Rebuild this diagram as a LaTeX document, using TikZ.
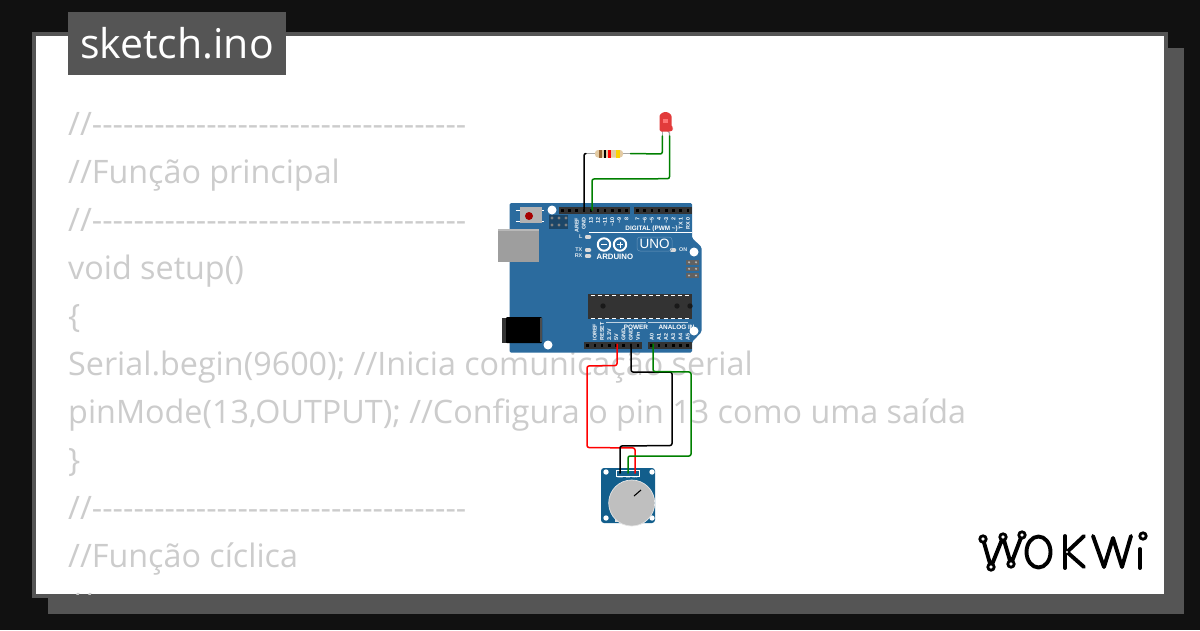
\documentclass[tikz,border=0pt]{standalone}
\usepackage{fontspec}
\setmainfont{Open Sans}
\newfontfamily\codefont{Open Sans}
\newfontfamily\boardfont{Liberation Sans}
\usetikzlibrary{calc}
\definecolor{pagedark}{HTML}{111111}
\definecolor{framegray}{HTML}{555555}
\definecolor{codegray}{HTML}{CCCCCC}
\definecolor{boardblue}{HTML}{2B6B9E}
\definecolor{potblue}{HTML}{125E8C}
\definecolor{headerdark}{HTML}{333333}
\definecolor{wiregreen}{HTML}{008000}
\definecolor{resistortan}{HTML}{E3CBA4}
\definecolor{ledred}{HTML}{E23B3B}
\tikzset{
  wire/.style={line width=1.5pt, rounded corners=2pt, line cap=round},
  lead/.style={line width=1.1pt, color=black!35},
  pinlabel/.style={text=white, font=\boardfont\bfseries\fontsize{5.4}{6}\selectfont, inner sep=0pt},
  boardtext/.style={text=white, font=\boardfont\bfseries\fontsize{6.4}{7}\selectfont, inner sep=0pt},
  hole/.style={fill=white, draw=none},
  header/.style={fill=headerdark, draw=none},
  logostroke/.style={line width=3.9pt, line cap=round, line join=round, color=black},
  logodot/.style={line width=2.8pt, color=black, fill=white},
}
\begin{document}
\begin{tikzpicture}[x=1pt,y=-1pt]
\useasboundingbox (0,0) rectangle (1200,630);
\fill[pagedark] (0,0) rectangle (1200,630);
\fill[framegray] (48,48) rectangle (1184,614);
\fill[framegray] (32,32) rectangle (1168,598);
\fill[white] (36,36) rectangle (1164,594);
% listing
\begin{scope}
\clip (36,36) rectangle (1164,594);
\foreach \codeline [count=\i from 0] in {
 {//------------------------------------},
 {//Função principal},
 {//------------------------------------},
 {void setup()},
 {\{},
 {Serial.begin(9600); //Inicia comunicação serial},
 {pinMode(13,OUTPUT); //Configura o pin 13 como uma saída},
 {\}},
 {//------------------------------------},
 {//Função cíclica},
 {//------------------------------------}} {
 \node[anchor=base west, inner sep=0pt, text=codegray, font=\codefont\fontsize{32.3}{36}\selectfont] (code\i) at (68,135+48.1*\i) {\codeline};
}
\end{scope}
% title
\node[fill=framegray, text=white, minimum width=218pt, minimum height=63pt, inner sep=0pt, font=\codefont\fontsize{41}{46}\selectfont] (title) at (177,43.5) {sketch.ino};
% board
\fill[boardblue, rounded corners=1.5pt] (509.5,203) -- (692,203) -- (692,238) -- (701.5,247) -- (701.5,332) -- (692,342) -- (692,352.5) -- (509.5,352.5) -- cycle;
\fill[hole] (552,210) circle (4.5);
\fill[hole] (694,252) circle (4.5);
\fill[hole] (694,331) circle (4.5);
\fill[hole] (548,345) circle (4.5);
% usb and jack
\fill[black!38] (498,229) rectangle (539,262);
\fill[black!28] (498,229) rectangle (539,231);
\fill[black!80] (502,318) rectangle (512,343);
\fill[black, rounded corners=1pt] (506,317) rectangle (542,343);
\fill[black!70] (540,318) rectangle (542,342);
% reset
\foreach \y in {210,221} {
 \draw[white, line width=1pt] (515.5,\y) --++(5,0);
 \draw[white, line width=1pt] (542,\y) --++(2,0);
}
\fill[black!30] (520,207) rectangle (542,223);
\fill[red!65!black] (529,216) circle (4);
% icsp
\fill[black!35!boardblue] (549,215) rectangle (568,229);
\foreach \x in {552,559,566} {
 \foreach \y in {218,225} {
  \fill[black!50] (\x,\y) circle (1.7);
 }
}
\fill[black!62] (686,260) rectangle (699,264.5);
\fill[black!62] (686,266.5) rectangle (699,271);
\fill[black!62] (686,273) rectangle (699,278);
\foreach \y in {262.3,268.8,275.5} {
 \foreach \x in {689,696} {
  \fill[black!30] (\x,\y) circle (1.2);
 }
}
% headers
\fill[header] (559,207) rectangle (630,214);
\fill[header] (634,207) rectangle (692,214);
\fill[header] (584,342) rectangle (642,348.5);
\fill[header] (648,342) rectangle (692,348.5);
\foreach \i in {0,...,9} {\fill[black] ($(562.5,209)+(7.1*\i,0)$) ++(-1.3,0) rectangle ++(2.6,2.6);}
\foreach \i in {0,...,7} {\fill[black] ($(637.5,209)+(7.2*\i,0)$) ++(-1.3,0) rectangle ++(2.6,2.6);}
\foreach \i in {0,...,7} {\fill[black] ($(587.6,344)+(7.2*\i,0)$) ++(-1.3,0) rectangle ++(2.6,2.6);}
\foreach \i in {0,...,5} {\fill[black] ($(651.7,344)+(7.2*\i,0)$) ++(-1.3,0) rectangle ++(2.6,2.6);}
% pin labels
\foreach \pinname [count=\i from 2] in {AREF,GND,13,12,\textasciitilde 11,\textasciitilde 10,\textasciitilde 9,8} {
 \node[pinlabel, rotate=90, anchor=east] (topa\i) at (562.5+7.1*\i,217.5) {\pinname};
}
\foreach \pinname [count=\i from 0] in {7,\textasciitilde 6,\textasciitilde 5,4,\textasciitilde 3,2,TX 1,RX 0} {
 \node[pinlabel, rotate=90, anchor=east] (topb\i) at (637.5+7.2*\i,217.5) {\pinname};
}
\foreach \pinname [count=\i from 1] in {IOREF,RESET,3.3V,5V,GND,GND,Vin} {
 \node[pinlabel, rotate=90, anchor=west] (bota\i) at (587.6+7.2*\i,340.5) {\pinname};
}
\foreach \pinname [count=\i from 0] in {A0,A1,A2,A3,A4,A5} {
 \node[pinlabel, rotate=90, anchor=west] (botb\i) at (651.7+7.2*\i,340.5) {\pinname};
}
\node[boardtext, anchor=east] (digital) at (678,228.5) {DIGITAL (PWM \textasciitilde)};
\draw[white, line width=.6pt] (589,232.5) -- (692,232.5);
\node[boardtext, anchor=center] (power) at (636,327) {POWER};
\node[boardtext, anchor=center] (analog) at (676.5,327) {ANALOG IN};
\draw[white!70!boardblue, line width=.6pt] (606,322.5) -- (646,322.5);
\draw[white!70!boardblue, line width=.6pt] (648,322.5) -- (688,322.5);
% leds on the board
\foreach \x/\y in {588/237,588/250,588/256,673/250} {
 \fill[white!85!black, rounded corners=1pt] (\x-3,\y-1.8) rectangle (\x+3,\y+1.8);
}
\node[pinlabel, text=white!85!boardblue, anchor=east] (ledL) at (582.5,237) {L};
\node[pinlabel, text=white!85!boardblue, anchor=east] (ledTX) at (582.5,250) {TX};
\node[pinlabel, text=white!85!boardblue, anchor=east] (ledRX) at (582.5,256) {RX};
\node[pinlabel, text=white!85!boardblue, anchor=west] (ledON) at (679,250) {ON};
% logo
\draw[white, line width=2pt] (604,244.5) circle (6.2);
\draw[white, line width=2pt] (620,244.5) circle (6.2);
\draw[white, line width=1pt] (601,244.5) -- (607,244.5);
\draw[white, line width=1pt] (617,244.5) -- (623,244.5) (620,241.5) -- (620,247.5);
\node[boardtext, anchor=west, font=\boardfont\bfseries\fontsize{7.8}{8}\selectfont] (arduino) at (596.5,257.3) {ARDUINO};
\draw[white!30!boardblue, line width=.5pt, rounded corners=3pt] (637,237) rectangle (672,251);
\node[inner sep=0pt, text=white, font=\boardfont\fontsize{13.5}{14}\selectfont] (uno) at (654.5,243.5) {UNO};
% chip
\fill[headerdark] (588,294) rectangle (692,319);
\foreach \i in {0,...,13} {
 \draw[white, line width=1pt] (590.5+7.3*\i,295) --++(4,0);
 \draw[white, line width=1pt] (590.5+7.3*\i,318) --++(4,0);
}
\fill[black!50!headerdark] (603,306) circle (2.7);
\fill[black!50!headerdark] (677,306) circle (2.7);
\fill[black!50!headerdark] (690,306) circle (2.7);
% resistor
\coordinate (resL) at (586,153.5);
\coordinate (resR) at (630.5,153.5);
\draw[lead] (resL) -- (resR);
\fill[resistortan, rounded corners=3pt] (595,150) rectangle (623,157.5);
\fill[brown!80!black] (598.5,150) rectangle (601.5,157.5);
\fill[black] (603.5,150) rectangle (606,157.5);
\fill[red] (608,150) rectangle (611,157.5);
\fill[yellow!70!orange] (616,150) rectangle (619.5,157.5);
% led
\coordinate (ledA) at (662.3,136);
\coordinate (ledC) at (669.5,136);
\draw[lead] (662.3,130) -- (ledA);
\draw[lead] (667,130) -- (669.5,133) -- (ledC);
\fill[ledred, rounded corners=1.5pt] (659.5,131.5) -- (659.5,118) arc (180:360:6) -- (671.5,127) -- (673,127.5) -- (673,130) -- (671,131.5) -- cycle;
\fill[red!55!white] (663,119) rectangle (668,123);
% pot
\fill[potblue, rounded corners=3pt] (601,468) rectangle (655,523);
\foreach \x/\y in {606/472,652/472,606/518,652/518} {
 \fill[hole] (\x,\y) circle (2.7);
}
\fill[black!12] (615,517) rectangle (642,522);
\fill[black!25, draw=black!10, line width=.7pt] (631.7,503) circle (23);
\draw[black, line width=1.1pt] (634,496) -- (641,490);
\draw[white, line width=.5pt] (616,470) rectangle (639,476);
\foreach \pinname/\x in {GND/620.5,SIG/628,VCC/635} {
 \node[inner sep=0pt, text=white, font=\boardfont\fontsize{2.5}{3}\selectfont] (pot\pinname) at (\x,478) {\pinname};
}
% named pins
\coordinate (gnd13) at (584,210);
\coordinate (pin13) at (592,210);
\coordinate (pin5v) at (617,344);
\coordinate (pingnd) at (631,344);
\coordinate (pina0) at (653,344);
\coordinate (potgnd) at (620,473);
\coordinate (potsig) at (628,473);
\coordinate (potvcc) at (635,473);
% wires
\draw[wire, wiregreen] (resR) -- (662.3,154) -- (ledA);
\draw[wire, wiregreen] (ledC) -- (669.5,178.7) -- (592,179) -- (pin13);
\draw[wire, black] (resL) -- (584,153.5) -- (gnd13);
\draw[wire, red] (pin5v) -- (617,365.5) -- (587,366) -- (587,447.5) -- (635,448) -- (potvcc);
\draw[wire, black] (pingnd) -- (631,372) -- (672,372) -- (672,445.5) -- (620,446) -- (potgnd);
\draw[wire, wiregreen] (pina0) -- (653,371.5) -- (691,372) -- (691,456) -- (628,456) -- (potsig);
% wokwi
\draw[logostroke] (983,539) -- (991,567) -- (1003,537) -- (1011,564) -- (1022,535);
\foreach \x/\y in {983/539,991/567,1003/537,1011/564,1022/535} {
 \draw[logodot] (\x,\y) circle (3.2);
}
\draw[logostroke] (1038.5,552) ellipse (12 and 15.5);
\draw[logostroke] (1065,536) -- (1065,568);
\draw[logostroke] (1084,536) -- (1067,552) -- (1084,567);
\fill[white] (1067,552) circle (1.2);
\draw[logostroke] (1093,536) -- (1104,567) -- (1113,538) -- (1122,567) -- (1131,536);
\draw[logostroke] (1140,549) -- (1140,568);
\draw[logodot] (1143,536) circle (3.2);
\end{tikzpicture}
\end{document}
